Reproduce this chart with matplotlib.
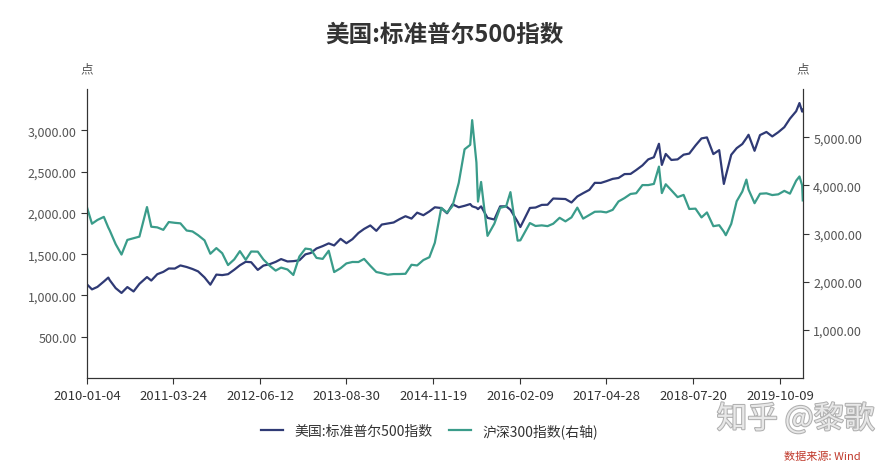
import pandas as pd
import matplotlib.pyplot as plt
from matplotlib.ticker import FuncFormatter
import matplotlib.patheffects as pe

plt.rcParams['font.family'] = ['Noto Sans CJK SC', 'DejaVu Sans']

# data (index points)
dates = ['2010-01-04', '2010-01-29', '2010-02-26', '2010-03-31', '2010-04-23', '2010-04-30',
         '2010-05-31', '2010-06-30', '2010-07-30', '2010-08-31', '2010-09-30', '2010-11-08',
         '2010-11-30', '2010-12-31', '2011-01-31', '2011-02-28', '2011-03-31', '2011-04-29',
         '2011-05-31', '2011-06-30', '2011-07-29', '2011-08-31', '2011-09-30', '2011-10-31',
         '2011-11-30', '2011-12-30', '2012-01-31', '2012-02-29', '2012-03-30', '2012-04-27',
         '2012-05-31', '2012-06-29', '2012-07-31', '2012-08-31', '2012-09-28', '2012-10-31',
         '2012-11-30', '2012-12-31', '2013-01-31', '2013-02-28', '2013-03-29', '2013-04-30',
         '2013-05-31', '2013-06-28', '2013-07-31', '2013-08-30', '2013-09-30', '2013-10-31',
         '2013-11-29', '2013-12-31', '2014-01-31', '2014-02-28', '2014-03-31', '2014-04-30',
         '2014-05-30', '2014-06-30', '2014-07-31', '2014-08-29', '2014-09-30', '2014-10-31',
         '2014-11-28', '2014-12-31', '2015-01-30', '2015-02-27', '2015-03-31', '2015-04-30',
         '2015-05-29', '2015-06-08', '2015-06-30', '2015-07-08', '2015-07-24', '2015-08-26',
         '2015-09-30', '2015-10-30', '2015-11-30', '2015-12-22', '2016-01-28', '2016-02-11',
         '2016-03-31', '2016-04-29', '2016-05-31', '2016-06-30', '2016-07-29', '2016-08-31',
         '2016-09-30', '2016-10-31', '2016-11-30', '2016-12-30', '2017-01-31', '2017-02-28',
         '2017-03-31', '2017-04-28', '2017-05-31', '2017-06-30', '2017-07-31', '2017-08-31',
         '2017-09-29', '2017-10-31', '2017-11-30', '2017-12-29', '2018-01-24', '2018-02-08',
         '2018-02-28', '2018-03-29', '2018-04-30', '2018-05-31', '2018-06-29', '2018-07-31',
         '2018-08-31', '2018-09-28', '2018-10-31', '2018-11-30', '2018-12-24', '2019-01-03',
         '2019-01-31', '2019-02-28', '2019-03-29', '2019-04-19', '2019-04-30', '2019-05-31',
         '2019-06-28', '2019-07-31', '2019-08-30', '2019-09-30', '2019-10-31', '2019-11-29',
         '2019-12-31', '2020-01-17', '2020-01-31', '2020-02-03']

spx = [1133, 1074, 1104, 1169, 1217, 1187, 1089, 1031, 1102, 1049, 1141, 1223,
       1181, 1258, 1286, 1327, 1326, 1364, 1345, 1321, 1292, 1219, 1131, 1253,
       1247, 1258, 1312, 1366, 1408, 1403, 1310, 1362, 1379, 1407, 1441, 1412,
       1416, 1426, 1498, 1515, 1569, 1598, 1631, 1606, 1686, 1633, 1682, 1757,
       1806, 1848, 1783, 1859, 1872, 1884, 1924, 1960, 1931, 2003, 1972, 2018,
       2068, 2059, 1995, 2105, 2068, 2086, 2107, 2080, 2063, 2046, 2079, 1940,
       1920, 2079, 2080, 2038, 1893, 1829, 2060, 2065, 2097, 2099, 2174, 2171,
       2168, 2126, 2199, 2239, 2279, 2364, 2363, 2384, 2412, 2423, 2470, 2472,
       2519, 2575, 2648, 2674, 2837, 2581, 2714, 2641, 2648, 2705, 2718, 2816,
       2902, 2914, 2712, 2760, 2351, 2448, 2704, 2784, 2834, 2905, 2946, 2752,
       2942, 2980, 2926, 2977, 3038, 3141, 3231, 3330, 3226, 3249]

csi300 = [3535, 3204, 3282, 3346, 3124, 3068, 2779, 2564, 2868, 2903, 2936, 3550,
          3142, 3128, 3077, 3239, 3223, 3212, 3063, 3044, 2966, 2859, 2581, 2698,
          2592, 2346, 2464, 2635, 2455, 2627, 2624, 2462, 2333, 2231, 2293, 2254,
          2140, 2523, 2688, 2673, 2495, 2474, 2643, 2201, 2280, 2380, 2410, 2409,
          2474, 2331, 2202, 2178, 2146, 2159, 2160, 2165, 2352, 2338, 2450, 2509,
          2809, 3533, 3434, 3572, 4051, 4749, 4841, 5354, 4473, 3663, 4071, 2952,
          3203, 3534, 3566, 3860, 2853, 2860, 3218, 3157, 3170, 3154, 3204, 3327,
          3253, 3336, 3538, 3310, 3387, 3452, 3456, 3439, 3492, 3666, 3737, 3822,
          3837, 4006, 4006, 4030, 4389, 3840, 4023, 3898, 3756, 3802, 3510, 3517,
          3335, 3438, 3153, 3173, 3038, 2965, 3201, 3670, 3872, 4120, 3913, 3630,
          3826, 3835, 3799, 3814, 3886, 3828, 4097, 4185, 3999, 3688]

tick_labels = ['2010-01-04', '2011-03-24', '2012-06-12', '2013-08-30', '2014-11-19',
               '2016-02-09', '2017-04-28', '2018-07-20', '2019-10-09']
left_ticks = [500, 1000, 1500, 2000, 2500, 3000]
right_ticks = [1000, 2000, 3000, 4000, 5000]

x = pd.to_datetime(dates)
navy = '#2f3a75'
teal = '#3a9c8a'
grey = '#555555'

fig = plt.figure(figsize=(8.89, 4.64), dpi=100)
ax = fig.add_axes([0.098, 0.183, 0.805, 0.623])
ax2 = ax.twinx()  # drawn after ax, so the CSI line sits on top

l1, = ax.plot(x, spx, color=navy, lw=1.6, label='美国:标准普尔500指数')
l2, = ax2.plot(x, csi300, color=teal, lw=1.6, label='沪深300指数(右轴)')

ax.set_xlim(x[0], x[-1])
ax.set_ylim(0, 3500)
ax2.set_ylim(0, 6000)
ax.set_yticks(left_ticks)
ax2.set_yticks(right_ticks)
fmt = FuncFormatter(lambda v, p: f'{v:,.2f}')
ax.yaxis.set_major_formatter(fmt)
ax2.yaxis.set_major_formatter(fmt)

ax.set_xticks(pd.to_datetime(tick_labels))
ax.set_xticklabels(tick_labels)

for a in (ax, ax2):
    a.spines['top'].set_visible(False)
    for s in ('left', 'right', 'bottom'):
        a.spines[s].set_color('#333333')
    a.tick_params(labelsize=9, colors='#333333', labelcolor=grey, length=4, width=0.8)
ax.tick_params(axis='x', labelcolor='#333333', labelsize=9.5)

fig.text(0.5, 0.925, '美国:标准普尔500指数', ha='center', va='center',
         fontsize=17, fontweight='bold', color='#333333')
fig.text(0.098, 0.85, '点', ha='center', va='center', fontsize=9, color=grey)
fig.text(0.903, 0.85, '点', ha='center', va='center', fontsize=9, color=grey)

fig.legend(handles=[l1, l2], loc='center', bbox_to_anchor=(0.483, 0.07), ncol=2,
           frameon=False, fontsize=10, handlelength=1.6, columnspacing=1.2,
           labelcolor='#333333')

# watermark and source note
wm = fig.text(0.895, 0.095, '知乎 @黎歌', ha='center', va='center', fontsize=22,
              color='#e8e8e8')
wm.set_path_effects([pe.withStroke(linewidth=1.5, foreground='#b0b0b0')])
fig.text(0.925, 0.015, '数据来源: Wind', ha='center', va='center', fontsize=8,
         color='#c0392b', style='italic')

fig.savefig('out.png', dpi=100)
